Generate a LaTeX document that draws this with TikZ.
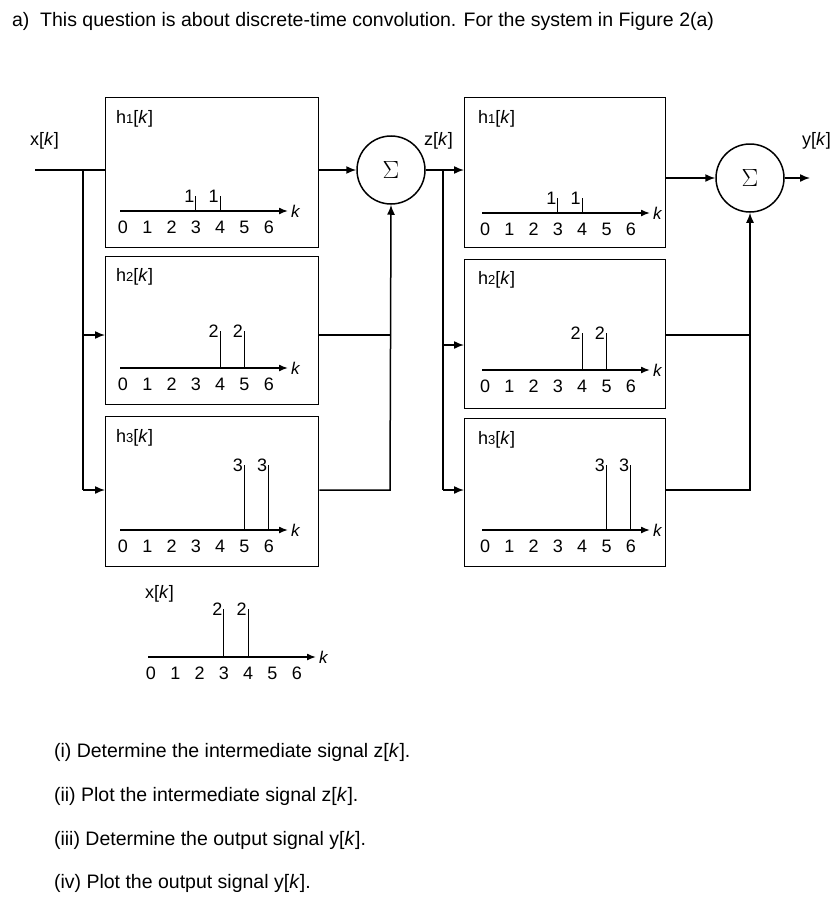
\documentclass[tikz,border=0pt]{standalone}
\usepackage{fontspec}
\setmainfont{Liberation Sans}
\usetikzlibrary{arrows.meta}
\begin{document}
\newcommand{\myplot}[7]{% x0, yaxis, stemA, stemB, label, height
  \draw[-{Latex[length=9pt,width=7pt]}] (#1-3,#2) -- (#1+165,#2);
  \node[anchor=west,font=\fontsize{17}{17}\selectfont\itshape] at (#1+164,#2) {k};
  \foreach \i in {0,...,6} {\node[font=\fontsize{18}{18}\selectfont] at (#1+\i*24.3,#2+16) {\i};}
  \draw[line width=1.1pt] (#1+#3*24.3,#2) -- ++(0,-#6) node[anchor=south east,inner sep=1pt,yshift=-8pt,font=\fontsize{18}{18}\selectfont] {#5};
  \draw[line width=1.1pt] (#1+#4*24.3,#2) -- ++(0,-#6) node[anchor=south east,inner sep=1pt,yshift=-8pt,font=\fontsize{18}{18}\selectfont] {#5};
}
\begin{tikzpicture}[x=1pt,y=-1pt,line width=1.5pt,
  box/.style={draw,line width=1.4pt},
  lab/.style={anchor=west,font=\fontsize{18}{18}\selectfont},
  txt/.style={anchor=base west,font=\fontsize{19.5}{19.5}\selectfont},
  arr/.style={-{Latex[length=10pt,width=8pt]}},
  sum/.style={draw,circle,minimum size=68pt,inner sep=0pt,font=\fontsize{58}{58}\selectfont}]
\useasboundingbox (0,0) rectangle (837,899);
\node[txt] (t0) at (8,27) {a)\ \ This question is about discrete-time convolution. For the system in Figure 2(a)};
% boxes
\node[box,minimum width=213pt,minimum height=150pt,anchor=north west] (L1) at (105,97) {};
\node[box,minimum width=213pt,minimum height=148pt,anchor=north west] (L2) at (105,256) {};
\node[box,minimum width=213pt,minimum height=150pt,anchor=north west] (L3) at (105,416) {};
\node[box,minimum width=201pt,minimum height=150pt,anchor=north west] (R1) at (464,97) {};
\node[box,minimum width=201pt,minimum height=149pt,anchor=north west] (R2) at (464,259) {};
\node[box,minimum width=201pt,minimum height=148pt,anchor=north west] (R3) at (464,418) {};
\node[lab] (l1) at (112,119) {h{\fontsize{13}{13}\selectfont 1}[\textit{k}]};
\node[lab] (l2) at (112,277) {h{\fontsize{13}{13}\selectfont 2}[\textit{k}]};
\node[lab] (l3) at (112,438) {h{\fontsize{13}{13}\selectfont 3}[\textit{k}]};
\node[lab] (r1) at (474,119) {h{\fontsize{13}{13}\selectfont 1}[\textit{k}]};
\node[lab] (r2) at (474,280) {h{\fontsize{13}{13}\selectfont 2}[\textit{k}]};
\node[lab] (r3) at (474,440) {h{\fontsize{13}{13}\selectfont 3}[\textit{k}]};
\myplot{123}{211}{3}{4}{1}{15}{}
\myplot{123}{368}{4}{5}{2}{37}{}
\myplot{123}{530}{5}{6}{3}{65}{}
\myplot{485}{213}{3}{4}{1}{15}{}
\myplot{485}{370}{4}{5}{2}{37}{}
\myplot{485}{530}{5}{6}{3}{65}{}
\myplot{151}{657}{3}{4}{2}{48}{}
\node[lab] (xl) at (141,594) {x[\textit{k}]};
% sums
\node[sum] (S1) at (391,170) {$\Sigma$};
\node[sum] (S2) at (750,178) {$\Sigma$};
\node[lab] (xk) at (26,141) {x[\textit{k}]};
\node[lab] (zk) at (420,141) {z[\textit{k}]};
\node[lab] (yk) at (798,141) {y[\textit{k}]};
\coordinate (in) at (35,170);
\coordinate (out) at (810,178);
% left connections
\draw (in) -- (L1.west |- in);
\draw (83,170) -- (83,490);
\draw[arr] (83,335) -- (L2.west |- 0,335);
\draw[arr] (83,490) -- (L3.west |- 0,490);
\draw[arr] (L1.east |- 0,170) -- (S1.west);
\draw (L2.east |- 0,335) -- (390,335);
\draw[arr] (L3.east |- 0,490) -- (390,490) -- (S1.south);
% middle
\draw[arr] (S1.east) -- (R1.west |- S1.east);
\draw (443,170) -- (443,490);
\draw[arr] (443,345) -- (R2.west |- 0,345);
\draw[arr] (443,490) -- (R3.west |- 0,490);
\draw[arr] (R1.east |- 0,178) -- (S2.west);
\draw (R2.east |- 0,335) -- (750,335);
\draw[arr] (R3.east |- 0,490) -- (750,490) -- (S2.south);
\draw[arr] (S2.east) -- (out);
% questions
\node[txt] (q1) at (50,757) {(i) Determine the intermediate signal z[\textit{k}].};
\node[txt] (q2) at (50,801) {(ii) Plot the intermediate signal z[\textit{k}].};
\node[txt] (q3) at (50,845) {(iii) Determine the output signal y[\textit{k}].};
\node[txt] (q4) at (50,888) {(iv) Plot the output signal y[\textit{k}].};
\end{tikzpicture}
\end{document}
